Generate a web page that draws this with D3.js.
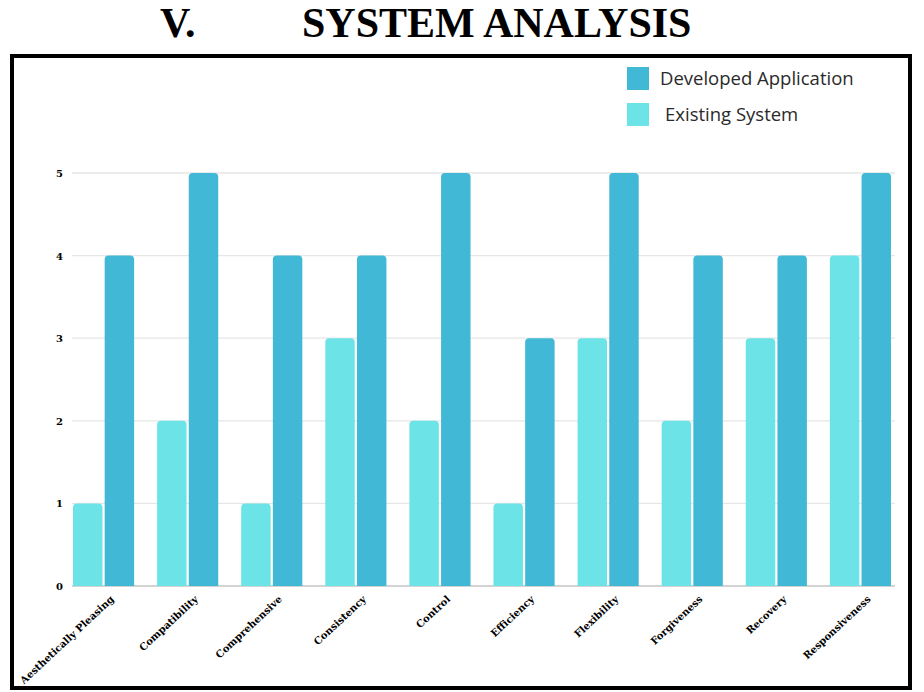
<!DOCTYPE html>
<html>
<head>
<meta charset="utf-8">
<script src="https://cdn.jsdelivr.net/npm/d3@7"></script>
<style>
  body { margin: 0; background: #fff; }
</style>
</head>
<body>
<div id="chart"></div>
<script>
// data
let categories = ["Aesthetically Pleasing", "Compatibility", "Comprehensive", "Consistency", "Control",
  "Efficiency", "Flexibility", "Forgiveness", "Recovery", "Responsiveness"];
let existingSystem = [1, 2, 1, 3, 2, 1, 3, 2, 3, 4];
let developedApp = [4, 5, 4, 4, 5, 3, 5, 4, 4, 5];
let seriesNames = ["Existing System", "Developed Application"];
let yTicks = [0, 1, 2, 3, 4, 5];

let width = 924, height = 692;
let colors = { "Existing System": "#6ce4e7", "Developed Application": "#41b8d6" };

let svg = d3.select("#chart").append("svg")
  .attr("width", width)
  .attr("height", height);

// title
svg.append("text")
  .attr("x", 160).attr("y", 37)
  .style("font-family", "'Liberation Serif', 'Times New Roman', serif")
  .style("font-weight", "bold")
  .style("font-size", "42px")
  .text("V.");
svg.append("text")
  .attr("x", 302).attr("y", 37)
  .style("font-family", "'Liberation Serif', 'Times New Roman', serif")
  .style("font-weight", "bold")
  .style("font-size", "42px")
  .text("SYSTEM ANALYSIS");

// frame
svg.append("rect")
  .attr("x", 12).attr("y", 56)
  .attr("width", 898).attr("height", 632)
  .attr("fill", "none")
  .attr("stroke", "#000")
  .attr("stroke-width", 4);

let xScale = d3.scaleBand().domain(categories).range([73, 891]).paddingInner(0.273).paddingOuter(0);
let xInner = d3.scaleBand().domain(seriesNames).range([0, xScale.bandwidth()]).paddingInner(0.07);
let yScale = d3.scaleLinear().domain([0, 5]).range([586, 173]);

// gridlines
svg.append("g").selectAll("line")
  .data(yTicks)
  .enter().append("line")
  .attr("x1", 72).attr("x2", 895)
  .attr("y1", d => yScale(d)).attr("y2", d => yScale(d))
  .attr("stroke", d => d === 0 ? "#c4c4c4" : "#e6e6e6")
  .attr("stroke-width", d => d === 0 ? 1.5 : 1.3);

// y tick labels
svg.append("g").selectAll("text")
  .data(yTicks)
  .enter().append("text")
  .attr("x", 63)
  .attr("y", d => yScale(d) + 4)
  .attr("text-anchor", "end")
  .style("font-family", "'DejaVu Serif', serif")
  .style("font-weight", "bold")
  .style("font-size", "10px")
  .text(d => d);

// bar with rounded top corners
function barPath(x, y, w, h, r) {
  r = Math.min(r, h, w / 2);
  return "M" + x + "," + (y + h) +
    "V" + (y + r) +
    "Q" + x + "," + y + " " + (x + r) + "," + y +
    "H" + (x + w - r) +
    "Q" + (x + w) + "," + y + " " + (x + w) + "," + (y + r) +
    "V" + (y + h) + "Z";
}

let rows = categories.map((c, i) => ({
  cat: c,
  values: [
    { series: "Existing System", value: existingSystem[i] },
    { series: "Developed Application", value: developedApp[i] }
  ]
}));

let groups = svg.append("g").selectAll("g")
  .data(rows)
  .enter().append("g")
  .attr("transform", d => "translate(" + xScale(d.cat) + ",0)");

groups.selectAll("path")
  .data(d => d.values)
  .enter().append("path")
  .attr("d", d => barPath(xInner(d.series), yScale(d.value), xInner.bandwidth(), yScale(0) - yScale(d.value), 4))
  .attr("fill", d => colors[d.series]);

// x labels, rotated
svg.append("g").selectAll("text")
  .data(categories)
  .enter().append("text")
  .attr("transform", d => "translate(" + (xScale(d) + xScale.bandwidth() / 2 + 11) + ",600) rotate(-43)")
  .attr("text-anchor", "end")
  .style("font-family", "'DejaVu Serif', serif")
  .style("font-weight", "bold")
  .style("font-size", "10px")
  .text(d => d);

// legend
let legendItems = [
  { name: "Developed Application", y: 67, tx: 660 },
  { name: "Existing System", y: 103, tx: 665 }
];
let legend = svg.append("g").selectAll("g")
  .data(legendItems)
  .enter().append("g");
legend.append("rect")
  .attr("x", 627).attr("y", d => d.y)
  .attr("width", 22).attr("height", 23)
  .attr("fill", d => colors[d.name]);
legend.append("text")
  .attr("x", d => d.tx).attr("y", d => d.y + 18)
  .style("font-family", "'Open Sans', sans-serif")
  .style("font-size", "18.5px")
  .attr("fill", "#2a2a2a")
  .text(d => d.name);
</script>
</body>
</html>
